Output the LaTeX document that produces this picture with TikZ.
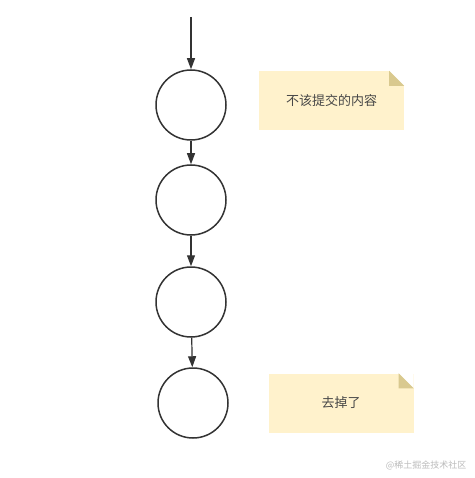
\documentclass[tikz,border=0pt]{standalone}
\usepackage{fontspec}
\setmainfont{Noto Sans CJK SC}
\usetikzlibrary{arrows.meta,positioning,calc}
\definecolor{Line}{HTML}{333333}
\definecolor{Note}{HTML}{FFF2CC}
\definecolor{Fold}{HTML}{D9C98F}
\definecolor{Mark}{HTML}{BBBBBB}

\begin{document}
\begin{tikzpicture}
[x=1pt,y=-1pt,
    commit/.style={circle,draw=Line,line width=1.5pt,minimum size=70pt,inner sep=0pt},
    edge/.style={Line,line width=1.2pt,-{Triangle[length=11pt,width=8pt]}},
    note/.style={fill=Note,minimum width=145pt,minimum height=59pt,inner sep=0pt,
      font=\fontsize{13}{15}\selectfont,text=Line!90}]

\useasboundingbox (0,0) rectangle (474,478);

\coordinate (start) at (191,17);
\node[commit] (c1) at (191,105) {};
\node[commit] (c2) at (191,200) {};
\node[commit] (c3) at (191,302) {};
\node[commit] (c4) at (193,403) {};

\draw[edge] (start) -- (c1);
\draw[edge] (c1) -- (c2);
\draw[edge] (c2) -- (c3);
\draw[edge] (c3) -- (c4);

%% notes
\node[note] (bad) at (331.5,100.5) {不该提交的内容};
\node[note] (gone) at (341,403) {去掉了};

%% folded corners
\foreach \n in {bad,gone}{
  \fill[white] (\n.north east) -- ++(-15,0) -- ++(15,15) -- cycle;
  \fill[Fold] ([xshift=-15pt]\n.north east) -- ++(15,15) -- ++(-15,0) -- cycle;
}

\node[text=Mark,font=\fontsize{9}{11}\selectfont,anchor=east] (mark) at (470,465) {@稀土掘金技术社区};

\end{tikzpicture}
\end{document}
